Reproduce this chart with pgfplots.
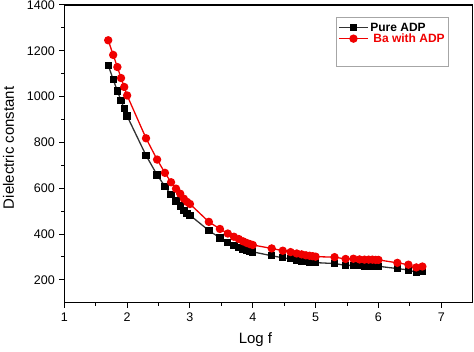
\documentclass[border=0pt]{standalone}
\usepackage{pgfplots}
\pgfplotsset{compat=1.18}
\usepackage{fontspec}
\setmainfont{Liberation Sans}
\definecolor{pred}{RGB}{240,0,0}
\definecolor{dline}{RGB}{50,50,50}
\begin{document}
\begin{tikzpicture}
\path[use as bounding box] (-64.3pt,-48.3pt) rectangle (409.7pt,302.7pt);
\begin{axis}[
  scale only axis, width=408.4pt, height=297.7pt,
  at={(0,0)}, anchor=south west,
  xmin=1, xmax=7.5, ymin=100, ymax=1400,
  xtick={1,2,3,4,5,6,7}, ytick={200,400,600,800,1000,1200,1400},
  minor x tick num=1, minor y tick num=1,
  tick align=outside, xtick pos=bottom, ytick pos=left,
  major tick length=5pt, minor tick length=3pt,
  every tick/.style={black, line width=1pt},
  axis line style={line width=1.4pt},
  /pgf/number format/assume math mode=true,
  /pgf/number format/1000 sep={},
  ticklabel style={font=\fontsize{12.5}{14}\selectfont},
  xticklabel style={yshift=-2pt},
  yticklabel style={xshift=-1pt},
  xlabel={Log f}, ylabel={Dielectric constant},
  label style={font=\fontsize{15}{17}\selectfont},
  xlabel style={xshift=-13pt, yshift=-4pt},
  ylabel style={xshift=6pt, yshift=6pt},
  legend cell align=left,
  legend style={at={(1,1)}, anchor=north east, xshift=-23.7pt, yshift=-12.5pt,
    draw=gray!70, line width=0.6pt, font=\fontsize{12}{13}\selectfont\bfseries,
    inner xsep=2pt, inner ysep=3pt, row sep=-3pt},
  legend image code/.code={\draw[mark repeat=2,mark phase=2] plot coordinates {(0cm,0cm)(0.5cm,0cm)(1cm,0cm)};},
]
\addplot[dline, line width=1.3pt, mark=square*, mark size=3pt, mark options={black, solid}] coordinates {
(1.699,1137)(1.778,1075)(1.845,1024)(1.903,983)(1.954,947)(2.0,915)
(2.301,743)(2.477,658)(2.602,608)(2.699,571)(2.778,544)(2.845,522)(2.903,502)(2.954,490)(3.0,482)
(3.301,415)(3.477,383)(3.602,363)(3.699,350)(3.778,342)(3.845,334)(3.903,328)(3.954,325)(4.0,322)
(4.301,305)(4.477,296)(4.602,292)(4.699,286)(4.778,282)(4.845,279)(4.903,277)(4.954,276)(5.0,275)
(5.301,271)(5.477,263)(5.602,263)(5.699,261)(5.778,260)(5.845,260)(5.903,259)(5.954,259)(6.0,259)
(6.301,249)(6.477,243)(6.602,232)(6.699,236)
};
\addlegendentry{Pure ADP}
\addplot[pred, line width=1.3pt, mark=*, mark size=3.5pt, mark options={pred, solid}] coordinates {
(1.699,1246)(1.778,1182)(1.845,1129)(1.903,1081)(1.954,1042)(2.0,1005)
(2.301,818)(2.477,725)(2.602,667)(2.699,626)(2.778,598)(2.845,576)(2.903,554)(2.954,540)(3.0,531)
(3.301,453)(3.477,422)(3.602,402)(3.699,388)(3.778,378)(3.845,368)(3.903,361)(3.954,356)(4.0,352)
(4.301,337)(4.477,327)(4.602,321)(4.699,315)(4.778,311)(4.845,307)(4.903,305)(4.954,303)(5.0,301)
(5.301,299)(5.477,291)(5.602,292)(5.699,289)(5.778,288)(5.845,288)(5.903,288)(5.954,287)(6.0,287)
(6.301,274)(6.477,266)(6.602,254)(6.699,258)
};
\addlegendentry{\textcolor{pred}{\hspace{3pt}Ba with ADP}}
\addlegendimage{empty legend}
\addlegendentry{\rule{0pt}{15pt}}
\end{axis}
\end{tikzpicture}
\end{document}
